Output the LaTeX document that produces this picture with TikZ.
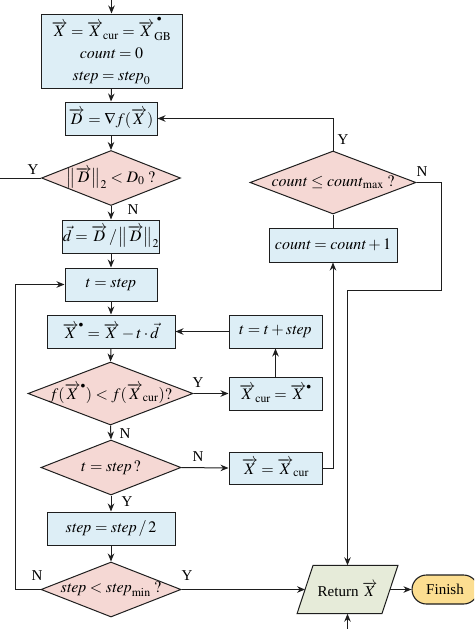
\documentclass[tikz,border=0pt]{standalone}
\usepackage{mathptmx}
\usepackage[no-math]{fontspec}
\setmainfont{Liberation Serif}
\usetikzlibrary{arrows.meta,shapes.geometric,calc}

\definecolor{boxblue}{RGB}{221,238,246}
\definecolor{diapink}{RGB}{245,216,212}
\definecolor{retgreen}{RGB}{230,235,217}
\definecolor{fingold}{RGB}{252,222,145}
\definecolor{edge}{RGB}{30,30,30}

\newcommand{\diagfont}{\fontsize{16}{22}\selectfont}
\newcommand{\labfont}{\fontsize{15}{18}\selectfont}
\newcommand{\vX}{\overrightarrow{X}}
\newcommand{\vD}{\overrightarrow{D}}
\newcommand{\sdot}{{\scriptscriptstyle\bullet}}

\tikzset{
  procbox/.style={rectangle, draw=edge, fill=boxblue, line width=1pt,
    inner sep=0pt, align=center, font=\diagfont},
  decision/.style={diamond, draw=edge, fill=diapink, line width=1pt,
    inner sep=0pt},
  dtext/.style={font=\diagfont, inner sep=0pt},
  yn/.style={font=\labfont, inner sep=0pt},
  flow/.style={-{Stealth[length=8pt,width=6.5pt]}, line width=1pt, draw=edge},
  plain/.style={line width=1pt, draw=edge},
}

\begin{document}
\begin{tikzpicture}[x=1pt,y=-1pt]
\clip (0,0) rectangle (474,629);

% main column
\node[procbox, minimum width=141, minimum height=74] (init) at (111.5,51)
  {$\vX = \vX_{\mathrm{cur}} = \vX_{\mathrm{GB}}^{\;\raisebox{5pt}{$\sdot$}}$\\
   $\mathit{count} = 0$\\
   $\mathit{step} = \mathit{step}_0$};
\node[procbox, minimum width=92, minimum height=33] (grad) at (111,118.5)
  {$\vD = \nabla f(\vX)$};
\node[decision, minimum width=139, minimum height=55] (dnorm) at (111,178) {};
\node[dtext] (dnormt) at (dnorm) {$\bigl\|\vD\bigr\|_2 < D_0\;?$};
\node[procbox, minimum width=92, minimum height=33] (dir) at (111,236.5)
  {$\vec{d} = \vD \,/\, \bigl\|\vD\bigr\|_2$};
\node[procbox, minimum width=92, minimum height=33] (tinit) at (111,284.5)
  {$t = \mathit{step}$};
\node[procbox, minimum width=128, minimum height=33] (trial) at (111,331.5)
  {$\vX^{\sdot} = \vX - t\cdot\vec{d}$};
\node[decision, minimum width=165, minimum height=63] (better) at (110.5,393.5) {};
\node[dtext] (bettert) at (better)
  {$f(\vX^{\sdot}) < f(\vX_{\mathrm{cur}})?$};
\node[decision, minimum width=140, minimum height=55] (tfirst) at (111,467.5) {};
\node[dtext] (tfirstt) at (tfirst) {$t = \mathit{step}\,?$};
\node[procbox, minimum width=128, minimum height=33] (halve) at (111,528.5)
  {$\mathit{step} = \mathit{step} \,/\, 2$};
\node[decision, minimum width=140, minimum height=55] (small) at (111,589.5) {};
\node[dtext] (smallt) at (small) {$\mathit{step} < \mathit{step}_{\min}\;?$};

% right column
\node[procbox, minimum width=93, minimum height=33] (tinc) at (275.5,331.5)
  {$t = t + \mathit{step}$};
\node[procbox, minimum width=93, minimum height=33] (accept) at (275.5,393.5)
  {$\vX_{\mathrm{cur}} = \vX^{\sdot}$};
\node[procbox, minimum width=93, minimum height=32] (update) at (275.5,468)
  {$\vX = \vX_{\mathrm{cur}}$};
\node[decision, minimum width=166, minimum height=63] (limit) at (333,182.5) {};
\node[dtext] (limitt) at (limit)
  {$\mathit{count} \le \mathit{count}_{\max}\;?$};
\node[procbox, minimum width=128, minimum height=34] (counter) at (333,245)
  {$\mathit{count} = \mathit{count} + 1$};

% output parallelogram and terminator
\node[minimum width=84.5, minimum height=48, inner sep=0pt] (ret) at (347.5,589.5) {};
\draw[fill=retgreen, draw=edge, line width=1pt]
  ($(ret.south west)+(-8,0)$) -- ($(ret.north west)+(8,0)$)
  -- ($(ret.north east)+(8,0)$) -- ($(ret.south east)+(-8,0)$) -- cycle;
\node[font=\labfont, inner sep=0pt] (rett) at (ret) {Return $\vX$};
\node[draw=edge, fill=fingold, line width=1.1pt, rounded corners=14.5,
  minimum width=66, minimum height=29, inner sep=0pt, font=\labfont]
  (fin) at (445,589.5) {Finish};

% free ends
\coordinate (top) at (111.5,-3);
\coordinate (leftout) at (-3,178);
\coordinate (bottom) at (347.5,632);
\coordinate (loop) at (15,589.5);
\coordinate (bend) at (441,290);

% connectors
\draw[flow] (top) -- (init.north);
\draw[flow] (init.south) -- (grad.north);
\draw[flow] (grad.south) -- (dnorm.north);
\draw[plain] (dnorm.west) -- (leftout);
\draw[flow] (dnorm.south) -- (dir.north);
\draw[flow] (dir.south) -- (tinit.north);
\draw[flow] (tinit.south) -- (trial.north);
\draw[flow] (trial.south) -- (better.north);
\draw[flow] (better.east) -- (accept.west);
\draw[flow] (accept.north) -- (tinc.south);
\draw[flow] (tinc.west) -- (trial.east);
\draw[flow] (better.south) -- (tfirst.north);
\draw[flow] (tfirst.east) -- (update.west);
\draw[flow] (update.east) -| (counter.south);
\draw[plain] (counter.north) -- (limit.south);
\draw[flow] (limit.north) |- (grad.east);
\draw[flow] (limit.east) -| (bend) -| (ret.north);
\draw[flow] (tfirst.south) -- (halve.north);
\draw[flow] (halve.south) -- (small.north);
\draw[flow] (small.east) -- (ret.west);
\draw[flow] (small.west) -- (loop) |- (tinit.west);
\draw[flow] (bottom) -- (ret.south);
\draw[flow] (ret.east) -- (fin.west);

% branch labels
\node[yn] (ly1) at (33,170) {Y};
\node[yn] (ln1) at (133,210) {N};
\node[yn] (ly2) at (198,383) {Y};
\node[yn] (ln2) at (125,434) {N};
\node[yn] (ln3) at (198,457) {N};
\node[yn] (ly3) at (127,502) {Y};
\node[yn] (ln4) at (37,576) {N};
\node[yn] (ly4) at (187,576) {Y};
\node[yn] (ly5) at (343,140) {Y};
\node[yn] (ln5) at (422,172) {N};
\end{tikzpicture}
\end{document}
